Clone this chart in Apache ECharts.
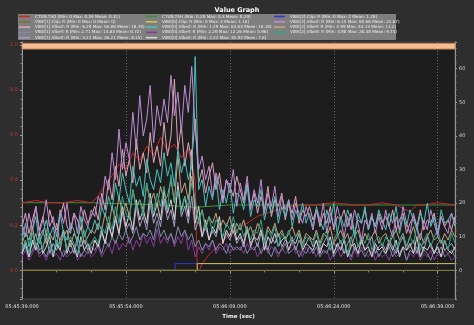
<!DOCTYPE html>
<html>
<head>
<meta charset="utf-8">
<script src="https://cdn.jsdelivr.net/npm/echarts@6/dist/echarts.min.js"></script>
<style>
  html, body { margin: 0; padding: 0; background: #2e2e2e; }
  #chart { width: 474px; height: 325px; }
</style>
</head>
<body>
<div id="chart"></div>
<script>
// Log start time: 05:45:39.000, samples every 0.5 s
const startSec = 5 * 3600 + 45 * 60 + 39;
const sampleStep = 0.5;
const xMax = 62.5;
const xTickStep = 15;

// Vibration levels (m/s/s), one value per 0.5 s sample
const vibe2Z = [
  14, 10, 17, 12, 19, 11, 15, 21, 13, 16, 10, 18, 14, 20, 12, 17, 11, 19, 15, 13, 18,
  16, 22, 19, 28, 24, 35, 27, 42, 30, 38, 33, 47, 36, 52, 40, 45, 55, 38, 49, 43, 51,
  44, 58, 46, 53, 41, 55, 47, 60.66, 42, 30, 34, 27, 31, 22, 29, 25, 20, 27, 23, 30, 19,
  26, 21, 28, 18, 24, 20, 27, 17, 23, 19, 25, 16, 22, 18, 21, 15, 20, 17, 14, 19, 16,
  12, 18, 14, 20, 11, 17, 13, 19, 15, 10, 16, 12, 18, 14, 9, 15, 13, 17, 11, 16, 12,
  18, 13, 10, 16, 12, 19, 14, 11, 17, 13, 9, 15, 12, 18, 14, 10, 16, 13, 11, 17, 14
];
const vibe0Z = [
  9, 14, 7, 12, 16, 8, 11, 15, 10, 13, 7, 17, 11, 9, 14, 12, 8, 16, 10, 13, 11,
  15, 12, 19, 16, 22, 18, 26, 21, 29, 24, 20, 31, 25, 28, 22, 33, 27, 24, 30, 26, 35,
  28, 32, 25, 36, 29, 33, 27, 31, 63.63, 24, 27, 19, 25, 21, 28, 18, 24, 20, 26, 17, 23,
  22, 18, 25, 16, 21, 19, 24, 15, 20, 17, 22, 14, 19, 16, 21, 13, 18, 15, 20, 14, 17,
  13, 19, 15, 12, 18, 14, 20, 11, 16, 13, 18, 15, 10, 17, 14, 19, 12, 16, 13, 18, 15,
  12, 17, 14, 19, 11, 16, 13, 18, 15, 12, 17, 14, 20, 13, 16, 11, 18, 14, 15, 17, 13
];
const vibe2X = [
  6, 9, 5, 11, 7, 10, 6, 12, 8, 5, 9, 7, 11, 6, 10, 8, 5, 9, 12, 7, 8,
  10, 8, 13, 11, 16, 12, 19, 14, 22, 17, 15, 24, 18, 21, 16, 26, 20, 17, 23, 19, 25,
  18, 28.48, 20, 24, 17, 22, 19, 26, 21, 14, 18, 12, 16, 11, 15, 13, 10, 14, 12, 16, 11,
  14, 10, 13, 9, 12, 11, 15, 8, 12, 10, 13, 7, 11, 9, 12, 8, 10, 11, 7, 10, 9,
  8, 11, 7, 10, 12, 6, 9, 11, 8, 10, 5, 9, 12, 7, 10, 8, 11, 6, 9, 10, 7,
  10, 8, 12, 6, 9, 11, 7, 10, 8, 13, 6, 9, 11, 7, 10, 12, 8, 9, 6, 11, 8
];
const vibe1Z = [
  13, 17, 11, 15, 19, 12, 16, 10, 18, 14, 12, 16, 20, 13, 11, 17, 15, 12, 18, 14, 16,
  19, 15, 23, 18, 27, 21, 31, 25, 36, 28, 33, 26, 39, 30, 35, 29, 41, 32, 37, 31, 44,
  34, 40, 56.88, 36, 43, 31, 38, 33, 45, 26, 30, 23, 28, 32, 24, 29, 21, 27, 25, 22, 28,
  24, 20, 26, 19, 23, 17, 22, 18, 25, 16, 21, 19, 23, 15, 20, 17, 22, 14, 18, 16, 19,
  15, 18, 13, 17, 14, 19, 12, 16, 15, 18, 13, 17, 11, 15, 14, 18, 12, 16, 13, 17, 14,
  16, 13, 18, 12, 15, 17, 11, 14, 16, 13, 18, 12, 15, 14, 17, 11, 16, 13, 15, 12, 16
];
const vibe2Y = [
  8, 11, 9, 13, 7, 10, 12, 8, 11, 9, 14, 8, 10, 12, 7, 11, 9, 13, 8, 10, 12,
  11, 14, 12, 17, 13, 19, 15, 22, 17, 20, 16, 24, 19, 21, 18, 26, 20, 23, 19, 25, 21,
  22, 27, 20, 34.13, 23, 26, 21, 28, 19, 15, 18, 13, 16, 14, 17, 12, 15, 13, 16, 11, 14,
  12, 15, 11, 13, 10, 14, 12, 9, 13, 11, 14, 10, 12, 9, 11, 13, 10, 12, 8, 11, 10,
  9, 12, 8, 11, 10, 13, 8, 10, 12, 9, 11, 7, 10, 12, 8, 11, 9, 10, 12, 8, 10,
  11, 8, 10, 12, 9, 11, 7, 10, 13, 9, 11, 8, 10, 12, 9, 10, 8, 11, 9, 12, 10
];
const vibe0X = [
  5, 8, 4, 9, 6, 11, 5, 7, 10, 4, 8, 6, 12, 5, 9, 7, 4, 10, 6, 8, 5,
  9, 7, 12, 8, 14, 10, 16, 11, 19, 13, 17, 12, 21, 15, 18, 14, 23, 16, 20, 15, 24,
  17, 21, 15, 25, 18, 22, 16, 35.92, 14, 19, 10, 15, 9, 13, 11, 16, 8, 12, 10, 14, 9,
  11, 8, 13, 7, 10, 9, 12, 6, 10, 8, 11, 7, 9, 10, 6, 9, 8, 11, 6, 8, 7,
  6, 9, 5, 8, 7, 10, 5, 8, 6, 9, 4, 7, 8, 5, 9, 6, 7, 4, 8, 6, 7,
  5, 8, 6, 9, 4, 7, 6, 8, 5, 10, 4, 7, 6, 8, 5, 7, 4, 9, 6, 5, 7
];
const vibe1X = [
  6, 9, 5, 8, 11, 6, 7, 10, 5, 8, 6, 9, 12, 6, 8, 5, 10, 7, 9, 6, 8,
  9, 7, 11, 8, 13, 10, 15, 11, 17, 12, 14, 11, 19, 13, 16, 12, 20, 14, 17, 13, 21,
  15, 18, 13, 26.21, 16, 19, 14, 22, 12, 15, 10, 13, 9, 12, 10, 14, 8, 11, 9, 12, 8,
  10, 7, 12, 8, 10, 7, 11, 9, 6, 10, 8, 11, 7, 9, 8, 10, 6, 9, 7, 8, 10,
  7, 9, 6, 8, 10, 6, 8, 7, 9, 5, 8, 10, 6, 7, 9, 6, 8, 10, 5, 7, 8,
  6, 9, 7, 5, 8, 10, 6, 7, 9, 5, 8, 6, 10, 7, 5, 8, 9, 6, 7, 8, 6
];
const vibe1Y = [
  5, 7, 4, 6, 8, 5, 6, 4, 7, 5, 8, 6, 4, 7, 5, 6, 8, 4, 6, 5, 7,
  6, 8, 5, 9, 7, 10, 8, 11, 9, 12, 8, 10, 13, 9, 11, 10, 12, 9, 14.83, 10, 12,
  9, 11, 8, 13, 10, 12, 9, 11, 7, 9, 6, 8, 7, 9, 6, 8, 7, 5, 8, 6, 7,
  6, 8, 5, 7, 6, 8, 5, 7, 6, 4, 7, 5, 6, 8, 5, 6, 7, 4, 6, 5, 7,
  5, 7, 4, 6, 5, 8, 4, 6, 7, 5, 6, 4, 7, 5, 6, 4, 6, 5, 7, 4, 6,
  5, 7, 4, 6, 5, 7, 3, 6, 5, 7, 4, 6, 5, 3, 6, 5, 7, 4, 5, 6, 4
];
const vibe0Y = [
  4, 6, 3, 5, 7, 4, 5, 3, 6, 4, 5, 3, 6, 4, 5, 7, 3, 5, 4, 6, 4,
  5, 7, 4, 6, 8, 5, 9, 6, 8, 7, 10, 6, 9, 7, 11, 8, 10, 7, 12.26, 8, 10,
  8, 11, 7, 10, 8, 12, 6, 9, 4, 7, 5, 8, 6, 9, 5, 7, 6, 8, 5, 7, 6,
  7, 5, 8, 6, 7, 4, 6, 8, 5, 7, 6, 4, 7, 5, 6, 8, 5, 6, 4, 7, 5,
  6, 4, 7, 5, 6, 3, 5, 7, 4, 6, 5, 3, 6, 4, 7, 5, 4, 6, 3, 5, 4,
  5, 3, 6, 4, 5, 7, 3, 5, 4, 6, 3, 5, 4, 6, 3, 5, 4, 6, 5, 3, 4
];

// Clip counters (change points)
const clip0Time = [0, 25.3, 62.5];
const clip0Val = [0, 2, 2];
const clip1Time = [0, 62.5];
const clip1Val = [0, 0];
const clip2Time = [0, 22.1, 62.5];
const clip2Val = [0, 2, 2];

// Throttle out / hover throttle (left axis)
const thoTime = [0, 2, 4, 6, 8, 10, 11, 12, 13, 14, 15, 16, 17, 18, 19, 20, 21, 22, 23, 24, 25, 25.3, 25.6,
  26, 27, 28, 29, 30, 31, 32, 33, 34, 35, 36, 37, 38, 40, 42, 45, 48, 50, 52, 54, 56, 57, 58, 60, 62.5];
const thoVal = [0.3, 0.31, 0.3, 0.3, 0.31, 0.3, 0.33, 0.38, 0.42, 0.47, 0.45, 0.52, 0.49, 0.55, 0.51, 0.59, 0.53, 0.56, 0.5, 0.54, 0.4, 0, 0,
  0.03, 0.07, 0.1, 0.13, 0.16, 0.18, 0.2, 0.22, 0.24, 0.25, 0.26, 0.27, 0.28, 0.29, 0.29, 0.3, 0.29, 0.29, 0.3, 0.29, 0.26, 0.29, 0.29, 0.3, 0.29];
const thhTime = [0, 10, 20, 25, 30, 40, 50, 62.5];
const thhVal = [0.3, 0.3, 0.29, 0.28, 0.29, 0.29, 0.29, 0.29];

// Legend columns
const legendCols = [
  ['CTUN.ThO (Min: 0 Max: 0.59 Mean: 0.31)',
   'VIBE[1].Clip: R (Min: 0 Max: 0 Mean: 0)',
   'VIBE[1].VibeZ: R (Min: 6.29 Max: 56.88 Mean: 18.78)',
   'VIBE[1].VibeY: R (Min: 2.71 Max: 14.83 Mean: 6.72)',
   'VIBE[1].VibeX: R (Min: 3.21 Max: 26.21 Mean: 8.15)'],
  ['CTUN.ThH (Min: 0.28 Max: 0.3 Mean: 0.29)',
   'VIBE[0].Clip: R (Min: 0 Max: 2 Mean: 1.16)',
   'VIBE[0].VibeZ: R (Min: 1.29 Max: 63.63 Mean: 18.18)',
   'VIBE[0].VibeY: R (Min: 2.29 Max: 12.26 Mean: 5.96)',
   'VIBE[0].VibeX: R (Min: 2.22 Max: 35.92 Mean: 7.6)'],
  ['VIBE[2].Clip: R (Min: 0 Max: 2 Mean: 1.28)',
   'VIBE[2].VibeZ: R (Min: 6.15 Max: 60.66 Mean: 21.67)',
   'VIBE[2].VibeY: R (Min: 4.99 Max: 34.13 Mean: 11.2)',
   'VIBE[2].VibeX: R (Min: 3.98 Max: 28.48 Mean: 9.74)']
];

function sampled(vals) {
  return vals.map((v, i) => [i * sampleStep, v]);
}
function paired(ts, vs) {
  return ts.map((t, i) => [t, vs[i]]);
}
function fmtTime(v) {
  const s = startSec + v;
  const h = Math.floor(s / 3600), m = Math.floor((s % 3600) / 60), sec = Math.floor(s % 60);
  const p = n => String(n).padStart(2, '0');
  return p(h) + ':' + p(m) + ':' + p(sec) + '.000';
}

// series: [legend name, data, colour, y axis, step, z]; later entries draw on top
const lines = [
  [legendCols[1][0], paired(thhTime, thhVal), '#3d8f3d', 0],
  [legendCols[0][0], paired(thoTime, thoVal), '#c82828', 0],
  [legendCols[1][3], sampled(vibe0Y), '#8a3a9e', 1],
  [legendCols[0][3], sampled(vibe1Y), '#7e8cab', 1],
  [legendCols[0][4], sampled(vibe1X), '#a89cc8', 1],
  [legendCols[1][4], sampled(vibe0X), '#d4d4d4', 1],
  [legendCols[2][2], sampled(vibe2Y), '#c4a482', 1],
  [legendCols[0][2], sampled(vibe1Z), '#dca4b6', 1],
  [legendCols[2][3], sampled(vibe2X), '#2fa58a', 1],
  [legendCols[1][2], sampled(vibe0Z), '#48c0bc', 1],
  [legendCols[2][1], sampled(vibe2Z), '#c08cd6', 1],
  [legendCols[2][0], paired(clip2Time, clip2Val), '#3434d0', 1, 'end', 3],
  [legendCols[1][1], paired(clip0Time, clip0Val), '#c8c44a', 1, 'end', 4],
  [legendCols[0][1], paired(clip1Time, clip1Val), '#76732e', 1, 'end', 5]
];

const series = lines.map(([name, data, color, yIdx, step, z]) => ({
  name, type: 'line', data, yAxisIndex: yIdx,
  step: step || false, z: z || 2,
  showSymbol: false, symbol: 'none',
  lineStyle: { width: 1, color }, itemStyle: { color },
  emphasis: { disabled: true }, silent: true
}));

// Highlighted band across the top of the plot
series[0].markArea = {
  silent: true,
  itemStyle: { color: '#f6bb8e', borderColor: '#c58a5c', borderWidth: 1 },
  data: [[{ xAxis: 0, yAxis: 0.982 }, { xAxis: xMax, yAxis: 1.007 }]]
};

const legendLefts = [19, 146, 274];
const legends = legendCols.map((col, i) => ({
  data: col, orient: 'vertical', left: legendLefts[i], top: 14,
  icon: 'rect', itemWidth: 11, itemHeight: 1.6, itemGap: 0.3, padding: 0,
  selectedMode: false,
  textStyle: { color: '#f0f0f0', fontSize: 4.15, lineHeight: 5, fontFamily: 'DejaVu Sans' }
}));

const chart = echarts.init(document.getElementById('chart'), null, { renderer: 'canvas' });
chart.setOption({
  animation: false,
  backgroundColor: '#2e2e2e',
  title: {
    text: 'Value Graph', left: 'center', top: 2,
    textStyle: { color: '#ffffff', fontSize: 6.5, fontWeight: 'bold', fontFamily: 'DejaVu Sans' }
  },
  graphic: [{
    type: 'rect', left: 18, top: 14, z: -1,
    shape: { width: 378, height: 26 },
    style: { fill: '#7f7f7f' }
  }],
  legend: legends,
  grid: {
    left: 22, right: 19, top: 42, bottom: 23,
    show: true, backgroundColor: '#1d1d1d', borderColor: '#444', borderWidth: 1
  },
  xAxis: {
    type: 'value', min: 0, max: xMax, interval: xTickStep,
    name: 'Time (sec)', nameLocation: 'middle', nameGap: 15,
    nameTextStyle: { color: '#f0f0f0', fontSize: 5.5, fontWeight: 'bold', fontFamily: 'DejaVu Sans' },
    axisLine: { lineStyle: { color: '#999' } },
    axisTick: { length: 3, lineStyle: { color: '#999' } },
    minorTick: { show: true, splitNumber: 3, length: 2, lineStyle: { color: '#888' } },
    axisLabel: { color: '#e0e0e0', fontSize: 5, margin: 5, formatter: fmtTime, showMaxLabel: false,
      fontFamily: 'DejaVu Sans' },
    splitLine: { show: true, lineStyle: { color: '#6a6a6a', type: [1, 2], width: 1 } }
  },
  yAxis: [
    {
      type: 'value', position: 'left', min: -0.127, max: 1.013, splitNumber: 5,
      axisLine: { show: true, lineStyle: { color: '#999' } },
      axisTick: { show: true, length: 2, lineStyle: { color: '#999' } },
      minorTick: { show: true, splitNumber: 5, length: 1.5, lineStyle: { color: '#888' } },
      axisLabel: { color: '#c23a3a', fontSize: 5, margin: 4, showMinLabel: false, showMaxLabel: false,
        formatter: v => v.toFixed(1), fontFamily: 'DejaVu Sans' },
      splitLine: { show: false }
    },
    {
      type: 'value', position: 'right', min: -8.53, max: 67.94, splitNumber: 7,
      axisLine: { show: true, lineStyle: { color: '#999' } },
      axisTick: { show: true, length: 2, lineStyle: { color: '#999' } },
      minorTick: { show: true, splitNumber: 5, length: 1.5, lineStyle: { color: '#888' } },
      axisLabel: { color: '#d0d0d0', fontSize: 5, margin: 4, showMinLabel: false, showMaxLabel: false,
        fontFamily: 'DejaVu Sans' },
      splitLine: { show: false }
    }
  ],
  series
});
</script>
</body>
</html>
